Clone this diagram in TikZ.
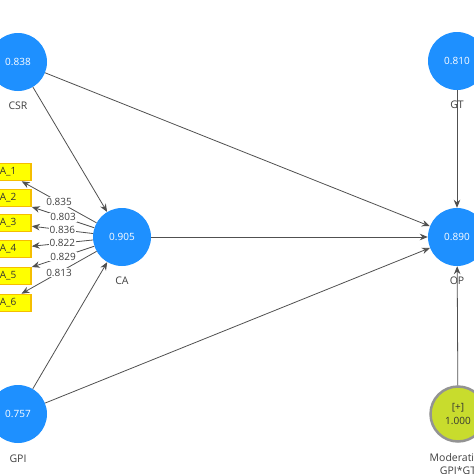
\documentclass[tikz,border=0pt]{standalone}
\usepackage{fontspec}
\setmainfont{Open Sans}
\usepackage{xcolor}
\usepackage{tikz}
\usetikzlibrary{arrows.meta,positioning}

\definecolor{lvblue}{RGB}{30,144,255}
\definecolor{modgreen}{RGB}{200,220,45}
\definecolor{boxyellow}{RGB}{255,255,0}
\definecolor{boxedge}{RGB}{245,190,0}
\definecolor{pathgray}{RGB}{80,80,80}

\begin{document}
\begin{tikzpicture}[x=1pt,y=-1pt,
	lv/.style={circle,fill=lvblue,minimum size=58pt,inner sep=0,text=white,font=\fontsize{10}{11}\selectfont},
	modlv/.style={lv,fill=modgreen,draw=gray!85,line width=2.5pt,minimum size=55pt,text=black!80,align=center,font=\fontsize{10}{14}\selectfont},
	ind/.style={rectangle,fill=boxyellow,draw=boxedge,line width=1.6pt,minimum width=52pt,minimum height=17pt,inner sep=0,font=\fontsize{10}{11}\selectfont,text=black!80},
	lvname/.style={font=\fontsize{10.5}{13}\selectfont,text=black!75,align=center},
	pth/.style={draw=pathgray,line width=0.8pt,-{Stealth[length=8pt,width=6.5pt]}},
	load/.style={fill=white,inner sep=1pt,font=\fontsize{10}{11}\selectfont,text=black!75}]

\useasboundingbox (0,0) rectangle (474,474);
\clip (0,0) rectangle (474,474);

% latent variables
\node[lv] (CSR) at (18,62) {0.838};
\node[lv] (GT) at (457,61) {0.810};
\node[lv] (CA) at (122,237) {0.905};
\node[lv] (OP) at (457,237) {0.890};
\node[lv] (GPI) at (18,414) {0.757};
\node[modlv] (Mod) at (458,414) {[+]\\1.000};

\node[lvname, below=7pt of CSR] (CSRname) {CSR};
\node[lvname, below=7pt of GT] (GTname) {GT};
\node[lvname, below=7pt of CA] (CAname) {CA};
\node[lvname, below=7pt of OP] (OPname) {OP};
\node[lvname, below=8pt of GPI] (GPIname) {GPI};
\node[lvname, below=7pt of Mod] (Modname) {Moderating\\GPI*GT};

% indicators
\foreach \i/\y in {1/172,2/198,3/223,4/249,5/276,6/303}
	\node[ind] (CA\i) at (5,\y) {CA\_\i};

\foreach \i/\v in {1/0.835,2/0.803,3/0.836,4/0.822,5/0.829,6/0.813}
	\draw[pth] (CA) -- node[load] {\v} (CA\i);

% structural paths
\draw[pth] (CSR) -- (CA);
\draw[pth] (CSR) -- (OP);
\draw[pth] (CA) -- (OP);
\draw[pth] (GPI) -- (CA);
\draw[pth] (GPI) -- (OP);
\draw[pth] (GT) -- (OP);
\draw[pth] (Mod) -- (OP);

\end{tikzpicture}
\end{document}
